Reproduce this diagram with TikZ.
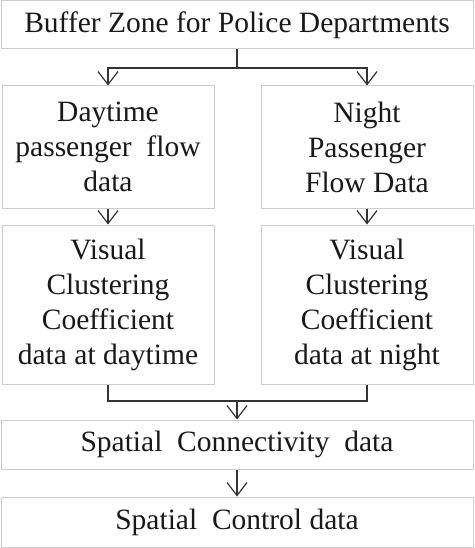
\documentclass[tikz,border=0pt]{standalone}
\usepackage{fontspec}
\setmainfont{Liberation Serif}
\usetikzlibrary{arrows.meta, positioning}

\begin{document}
\begin{tikzpicture}[x=1pt, y=-1pt,
    box/.style={draw=gray!40, line width=1pt, fill=white, align=center,
      inner sep=0pt, text=black!90, font=\fontsize{29.5}{35}\selectfont},
    widebox/.style={box, minimum width=472pt},
    halfbox/.style={box, minimum width=212pt},
    link/.style={draw=black!80, line width=1.2pt},
    arrow/.style={link, -{Straight Barb[length=13pt, width=20pt]}}]
  \useasboundingbox (0,0) rectangle (474,548);

  % Buffer zone
  \node[widebox, minimum height=48pt] (buffer) at (237,25) {Buffer Zone for Police Departments};

  % Passenger flow
  \node[halfbox, minimum height=122pt] (dayflow) at (108,147) {Daytime\\passenger~~flow\\data};
  \node[halfbox, minimum height=122pt] (nightflow) at (367,147) {Night\\Passenger\\Flow Data};

  % Visual clustering coefficient
  \node[halfbox, minimum height=159pt] (dayvcc) at (108,304.5) {Visual\\Clustering\\Coefficient\\data at daytime};
  \node[halfbox, minimum height=159pt] (nightvcc) at (367,304.5) {Visual\\Clustering\\Coefficient\\data at night};

  % Spatial data
  \node[widebox, minimum height=49pt] (connect) at (237,444.5) {Spatial~~Connectivity~~data};
  \node[widebox, minimum height=50pt] (control) at (237,522) {Spatial~~Control data};

  % Connectors
  \coordinate (fork) at (237,68);
  \coordinate (join) at (237,401);
  \draw[link] (buffer) -- (fork);
  \draw[arrow] (fork) -| (dayflow);
  \draw[arrow] (fork) -| (nightflow);
  \draw[arrow] (dayflow) -- (dayvcc);
  \draw[arrow] (nightflow) -- (nightvcc);
  \draw[link] (dayvcc) |- (join);
  \draw[link] (nightvcc) |- (join);
  \draw[arrow] (join) -- (connect);
  \draw[arrow] (connect) -- (control);
\end{tikzpicture}
\end{document}
